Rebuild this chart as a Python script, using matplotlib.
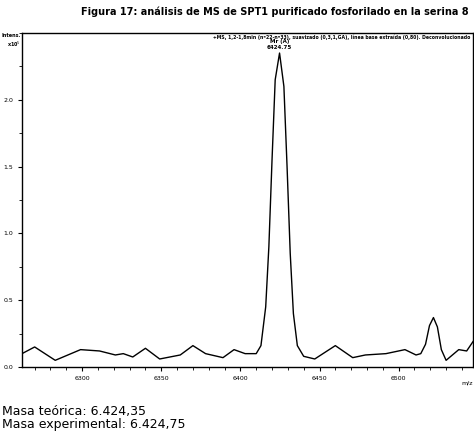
import matplotlib.pyplot as plt
from matplotlib.ticker import MultipleLocator

mz = [6262, 6270, 6283, 6299, 6311, 6321, 6326, 6332, 6340, 6349, 6362, 6370,
      6378, 6389, 6396, 6403, 6410, 6413, 6416, 6418, 6420, 6422, 6424.75,
      6427.5, 6429.5, 6431.5, 6433.5, 6436, 6440, 6447, 6460, 6471, 6479, 6492,
      6504, 6511, 6514, 6517, 6519.5, 6522, 6524.5, 6527, 6530, 6533, 6538, 6543, 6547]
inten = [0.10, 0.15, 0.05, 0.13, 0.12, 0.09, 0.10, 0.075, 0.14, 0.06, 0.09, 0.16,
         0.10, 0.07, 0.13, 0.10, 0.10, 0.16, 0.45, 0.90, 1.55, 2.15, 2.35,
         2.10, 1.50, 0.85, 0.40, 0.16, 0.08, 0.06, 0.16, 0.07, 0.09, 0.10,
         0.13, 0.09, 0.10, 0.17, 0.31, 0.37, 0.30, 0.13, 0.05, 0.08, 0.13, 0.12, 0.19]

fig = plt.figure(figsize=(4.74, 4.45), dpi=100)
ax = fig.add_axes([22/474, 78/445, 451/474, 334/445])
ax.plot(mz, inten, color='black', lw=1.0)
ax.set_xlim(6262, 6547)
ax.set_ylim(0, 2.5)
ax.xaxis.set_major_locator(MultipleLocator(50))
ax.xaxis.set_minor_locator(MultipleLocator(10))
ax.yaxis.set_minor_locator(MultipleLocator(0.25))
ax.set_yticks([0, 0.5, 1.0, 1.5, 2.0])
ax.set_yticklabels(['0.0', '0.5', '1.0', '1.5', '2.0'])
ax.tick_params(labelsize=4.5, length=3, width=0.8)
ax.tick_params(which='minor', length=2)
for s in ax.spines.values():
    s.set_linewidth(1.0)
ax.text(1.0, -0.04, 'm/z', transform=ax.transAxes, fontsize=4.5, ha='right', va='top')
ax.text(-0.003, 1.0, 'Intens.\nx10$^5$', transform=ax.transAxes, fontsize=3.5,
        ha='right', va='top', fontweight='bold')
ax.text(0.995, 0.995, '+MS, 1,2-1,8min (nº22-nº33), suavizado (0,3,1,GA), línea base extraída (0,80). Deconvolucionado',
        transform=ax.transAxes, fontsize=3.3, ha='right', va='top', fontweight='bold')
ax.annotate('Mr (A)\n6424.75', (6424.75, 2.35), xytext=(0, 2), textcoords='offset points',
            ha='center', va='bottom', fontsize=4, fontweight='bold', linespacing=1.3)
fig.text(0.58, 0.985, 'Figura 17: análisis de MS de SPT1 purificado fosforilado en la serina 8',
         ha='center', va='top', fontsize=7, fontweight='bold')
fig.text(0.005, 0.09, 'Masa teórica: 6.424,35\nMasa experimental: 6.424,75',
         ha='left', va='top', fontsize=9, linespacing=1.0)
fig.savefig('out.png', dpi=100)
